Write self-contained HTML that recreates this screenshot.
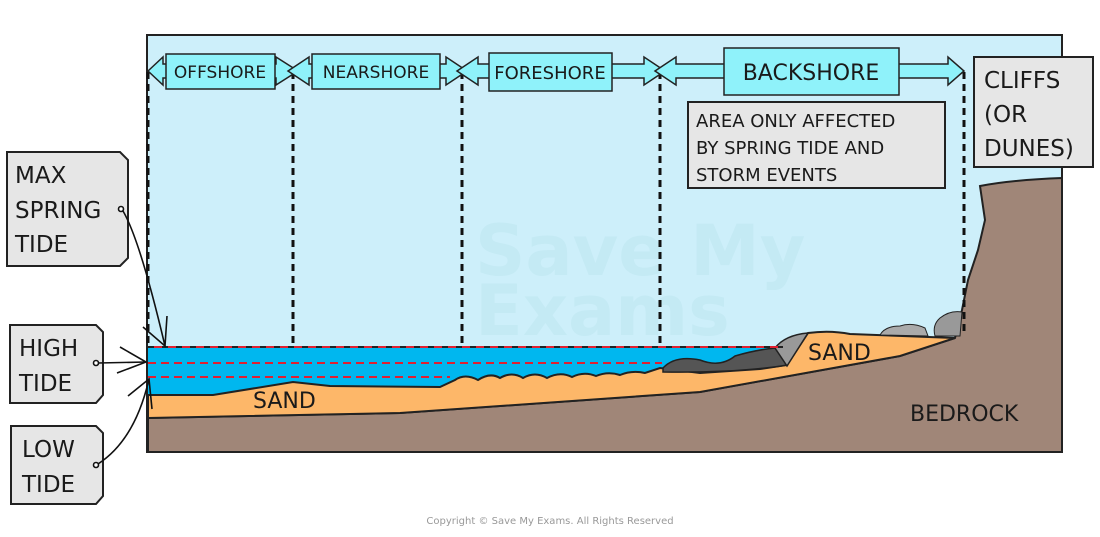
<!DOCTYPE html>
<html><head><meta charset="utf-8"><style>
html,body{margin:0;padding:0;background:#fff;width:1100px;height:537px;overflow:hidden}
text{font-family:"DejaVu Sans","Liberation Sans",sans-serif;fill:#1a1a1a}
</style></head><body>
<svg width="1100" height="537" viewBox="0 0 1100 537" xmlns="http://www.w3.org/2000/svg">
<rect x="147" y="35" width="915" height="417" fill="#cdeffa" stroke="#222" stroke-width="2"/>
<!-- watermark -->
<text x="475" y="275" font-size="70" font-weight="bold" style="fill:#c4eaf4">Save My</text>
<text x="475" y="335" font-size="70" font-weight="bold" style="fill:#c4eaf4">Exams</text>
<!-- water -->
<rect x="148" y="347" width="635" height="60" fill="#00b7ef"/>
<!-- bedrock -->
<path d="M148,418 L400,413 L700,392 L900,356 L955,338 L962,310 L968,280 L978,250 L985,220 L980,186 Q1010,180 1062,178 L1062,452 L148,452 Z" fill="#a08678" stroke="#222" stroke-width="2"/>
<!-- sand -->
<path d="M148,395 L213,395 L293,382 L330,386 L440,387 L455,380 Q465,373 478,380 Q490,372 500,378 Q512,371 523,378 Q535,371 547,378 Q560,371 572,377 Q584,371 596,376 Q608,371 620,375 Q632,370 645,373 L660,368 L700,373 L760,369 L787,365 L808,333 Q830,330 850,334 L955,338 L900,356 L700,392 L400,413 L148,418 Z" fill="#fdb769" stroke="#222" stroke-width="2"/>
<!-- dark pebbles -->
<path d="M663,368 Q675,355 700,360 Q720,368 735,356 Q755,350 775,348 L787,365 Q740,373 663,372 Z" fill="#555" stroke="#222" stroke-width="1.5"/>
<path d="M775,348 Q785,335 808,333 L787,366 Z" fill="#999" stroke="#222" stroke-width="1.5"/>
<!-- rocks -->
<path d="M880,335 Q885,326 900,326 Q912,322 925,328 L928,336 Z" fill="#aaa" stroke="#222" stroke-width="1"/>
<path d="M935,336 Q932,325 940,318 Q950,310 962,312 L960,336 Z" fill="#999" stroke="#222" stroke-width="1"/>
<!-- red dashed lines -->
<line x1="148" y1="347" x2="783" y2="347" stroke="#e02030" stroke-width="2"/>
<line x1="148" y1="347" x2="783" y2="347" stroke="#222" stroke-width="2" stroke-dasharray="6 8"/>
<line x1="148" y1="363" x2="662" y2="363" stroke="#e02030" stroke-width="2" stroke-dasharray="8 5"/>
<line x1="148" y1="377" x2="450" y2="377" stroke="#e02030" stroke-width="2" stroke-dasharray="8 5"/>
<!-- dashed verticals -->
<g stroke="#111" stroke-width="3" stroke-dasharray="7 5">
<line x1="148" y1="72" x2="148" y2="347"/>
<line x1="293" y1="72" x2="293" y2="347"/>
<line x1="462" y1="72" x2="462" y2="347"/>
<line x1="660" y1="72" x2="660" y2="347"/>
<line x1="964" y1="72" x2="964" y2="335"/>
</g>
<!-- arrow band -->
<g fill="#8ff2fa" stroke="#222" stroke-width="1.5">
<path d="M148,71 L163,57 L163,64 L276,64 L276,57 L298,71 L276,85 L276,78 L163,78 L163,85 Z"/>
<path d="M288,71 L309,57 L309,64 L446,64 L446,57 L467,71 L446,85 L446,78 L309,78 L309,85 Z"/>
<path d="M457,71 L478,57 L478,64 L644,64 L644,57 L665,71 L644,85 L644,78 L478,78 L478,85 Z"/>
<path d="M655,71 L676,57 L676,64 L948,64 L948,57 L964,71 L948,85 L948,78 L676,78 L676,85 Z"/>
<rect x="166" y="54" width="109" height="35"/>
<rect x="312" y="54" width="128" height="35"/>
<rect x="489" y="53" width="123" height="38"/>
<rect x="724" y="48" width="175" height="47"/>
</g>
<text x="220" y="78" font-size="17" text-anchor="middle">OFFSHORE</text>
<text x="376" y="78" font-size="17" text-anchor="middle">NEARSHORE</text>
<text x="550" y="79" font-size="18" text-anchor="middle">FORESHORE</text>
<text x="811" y="80" font-size="22" text-anchor="middle">BACKSHORE</text>
<!-- info boxes -->
<rect x="688" y="102" width="257" height="86" fill="#e6e6e6" stroke="#222" stroke-width="2"/>
<text x="696" y="127" font-size="18">AREA ONLY AFFECTED</text>
<text x="696" y="154" font-size="18">BY SPRING TIDE AND</text>
<text x="696" y="181" font-size="18">STORM EVENTS</text>
<rect x="974" y="57" width="119" height="110" fill="#e6e6e6" stroke="#222" stroke-width="2"/>
<text x="984" y="88" font-size="23">CLIFFS</text>
<text x="984" y="122" font-size="23">(OR</text>
<text x="984" y="156" font-size="23">DUNES)</text>
<!-- labels in scene -->
<text x="253" y="408" font-size="22">SAND</text>
<text x="808" y="360" font-size="22">SAND</text>
<text x="910" y="421" font-size="22">BEDROCK</text>
<!-- left tags -->
<g fill="#e6e6e6" stroke="#222" stroke-width="2">
<path d="M7,152 L120,152 L128,160 L128,258 L120,266 L7,266 Z"/>
<path d="M10,325 L96,325 L103,332 L103,395 L96,403 L10,403 Z"/>
<path d="M11,426 L96,426 L103,433 L103,496 L96,504 L11,504 Z"/>
</g>
<text x="15" y="183" font-size="23">MAX</text>
<text x="15" y="218" font-size="23">SPRING</text>
<text x="15" y="252" font-size="23">TIDE</text>
<text x="19" y="356" font-size="23">HIGH</text>
<text x="19" y="391" font-size="23">TIDE</text>
<text x="22" y="457" font-size="23">LOW</text>
<text x="22" y="492" font-size="23">TIDE</text>
<!-- connectors -->
<g fill="none" stroke="#111" stroke-width="1.6">
<circle cx="121" cy="209" r="2.5" fill="#fff"/>
<path d="M123,211 Q140,240 165,346"/>
<path d="M143,327 L165,346 L167,316"/>
<circle cx="96" cy="363" r="2.5" fill="#fff"/>
<path d="M98,363 L146,362"/>
<path d="M120,347 L146,362 L117,373"/>
<circle cx="96" cy="465" r="2.5" fill="#fff"/>
<path d="M98,464 Q135,440 149,379"/>
<path d="M128,396 L149,379 L152,409"/>
</g>
<text x="550" y="524" font-size="10" text-anchor="middle" style="fill:#999">Copyright © Save My Exams. All Rights Reserved</text>
</svg>
</body></html>
